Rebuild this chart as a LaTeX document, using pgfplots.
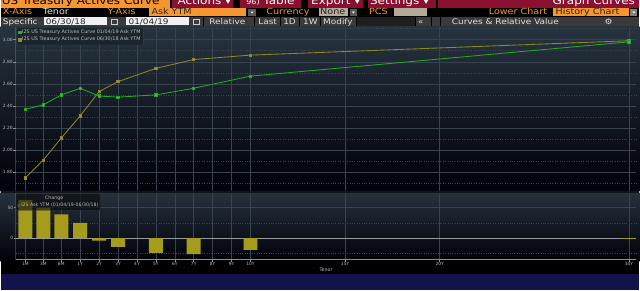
\documentclass[border=0pt]{standalone}
\usepackage{pgfplots}
\usepackage{pgfplotstable}
\pgfplotsset{compat=1.18}
\usepackage{fontspec}
\setmainfont{DejaVu Sans}
\newfontfamily\hdr[FakeStretch=1.15]{DejaVu Sans}
\definecolor{bbor}{HTML}{F7962F}
\definecolor{bbtxt}{HTML}{F39A2C}
\definecolor{bbred}{HTML}{8A1030}
\definecolor{rowthree}{HTML}{3A3A3A}
\definecolor{gridc}{HTML}{37434E}
\definecolor{bgtop}{HTML}{27343F}
\definecolor{grn}{HTML}{22AA22}
\definecolor{grnm}{HTML}{3CCB2A}
\definecolor{olv}{HTML}{8E8724}
\definecolor{olvm}{HTML}{A49C26}
\definecolor{barc}{HTML}{A69C1C}
\definecolor{navy}{HTML}{12134B}
\definecolor{lbl}{HTML}{BDBDBD}
\definecolor{boxg}{HTML}{B3AA9C}
\definecolor{axc}{HTML}{8A9096}
\definecolor{legbg}{HTML}{1B242C}
\definecolor{legdr}{HTML}{3A444E}

\pgfplotstableread{
x y
-1.9 2.37
-0.95 2.41
0 2.50
1 2.56
2 2.49
3 2.48
5 2.50
7 2.56
10 2.67
30 2.98
}\curveA
\pgfplotstableread{
x y
-1.9 1.75
-0.95 1.91
0 2.11
1 2.31
2 2.53
3 2.62
5 2.74
7 2.82
10 2.86
30 2.99
}\curveB
\pgfplotstableread{
x y
-1.9 62
-0.95 50
0 39
1 25
2 -4
3 -14
5 -24
7 -26
10 -19
30 -1
}\change

\begin{document}
\begin{tikzpicture}
\begin{scope}[x=1bp,y=1bp]
\path[use as bounding box] (0,0) rectangle (640,291);
\clip (0,0) rectangle (640,291);
\fill[black] (0,0) rectangle (640,291);
% ---------- row 1 ----------
\fill[bbor] (0,283) rectangle (170,291);
\fill[bbred] (172,283) rectangle (640,291);
\foreach \a/\b in {233/240,301/308,363/368,436/438} \fill[black] (\a,283) rectangle (\b,291);
\begin{scope}[every node/.style={anchor=base west,inner sep=0pt,font=\hdr\fontsize{10.5}{11}\selectfont}]
\node[text=black] at (1,286.3) {US Treasury Actives Curve};
\node[text=white] at (177,286.3) {Actions ▾};
\node[text=white] at (246,286.3) {{\fontsize{7}{7}\selectfont 96)} Table};
\node[text=white] at (311,286.3) {Export ▾};
\node[text=white] at (370,286.3) {Settings ▾};
\node[text=white] at (553,286.3) {Graph Curves};
\end{scope}
% ---------- row 2 ----------
\fill[bbor] (149,274.5) rectangle (246,282.5);
\fill[black!65] (248,275) rectangle (256,282);
\fill[boxg] (319,274.5) rectangle (348,282.5);
\fill[black!65] (350,275) rectangle (357,282);
\fill[boxg] (394,274.5) rectangle (427,282.5);
\fill[bbor] (554,274.5) rectangle (630,282.5);
\fill[black!50] (631,275) rectangle (638,282);
\foreach \c in {252,353.5,634.5} \fill[white] (\c-1.5,279.3) -- (\c+1.5,279.3) -- (\c,277.6) -- cycle;
\begin{scope}[every node/.style={anchor=base west,inner sep=0pt,font=\hdr\fontsize{8.4}{9}\selectfont}]
\node[text=bbtxt] at (2,276) {X-Axis};
\node[text=white!88!black] at (42,276) {Tenor};
\node[text=bbtxt] at (107,276) {Y-Axis};
\node[text=black!85] at (151,276) {Ask YTM};
\node[text=bbtxt] at (266,276) {Currency};
\node[text=black!85] at (320,276) {None};
\node[text=bbtxt] at (369,276) {PCS};
\node[text=bbtxt] at (489,276) {Lower Chart};
\node[text=black!85] at (556,276) {History Chart};
\end{scope}
% ---------- row 3 ----------
\fill[rowthree] (0,265) rectangle (640,274);
\fill[black!88] (357,265) rectangle (415,274);
\foreach \s in {203,254,280,299,320,356,415,431,440} \fill[black] (\s,265) rectangle (\s+1,274);
\fill[white!94!black] (43,265.5) rectangle (107,273.5);
\fill[white!94!black] (126,265.5) rectangle (189,273.5);
\foreach \c in {110.5,193.5} {
  \draw[white!80!black,line width=0.6bp] (\c,266.3) rectangle (\c+6,272);
  \fill[white!80!black] (\c,271) rectangle (\c+6,272.3);
}
\begin{scope}[every node/.style={anchor=base west,inner sep=0pt,font=\hdr\fontsize{7.8}{8}\selectfont}]
\node[text=white!92!black] at (2,266.8) {Specific};
\node[text=black!85] at (45,266.8) {06/30/18};
\node[text=black!85] at (128,266.8) {01/04/19};
\node[text=white!88!black] at (209,266.8) {Relative};
\node[text=white!88!black] at (258,266.8) {Last};
\node[text=white!88!black] at (283,266.8) {1D};
\node[text=white!88!black] at (303,266.8) {1W};
\node[text=white!88!black] at (323,266.8) {Modify};
\node[text=white!88!black] at (418,266.8) {«};
\node[text=white!88!black] at (452,266.8) {Curves \& Relative Value};
\node[text=white!88!black] at (605,266.8) {⚙};
\end{scope}
% ---------- chart backgrounds ----------
\shade[top color=bgtop, bottom color=black!97!blue] (0,99.3) rectangle (640,264);
\shade[top color=bgtop!95!black, bottom color=black!97!blue] (0,29) rectangle (640,97.8);
\fill[navy] (0,0) rectangle (640,16);
\end{scope}

% ---------- top chart ----------
\begin{axis}[at={(15bp,99.3bp)}, anchor=south west, scale only axis,
  width=622bp, height=164.7bp,
  xmin=-2.41, xmax=30.39, ymin=1.628, ymax=3.115,
  xtick={-1.9,-0.95,0,1,2,3,4,5,6,7,8,9,10,15,20,30}, xticklabels={},
  ytick={1.8,2.0,2.2,2.4,2.6,2.8,3.0},
  minor ytick={1.7,1.9,2.1,2.3,2.5,2.7,2.9,3.1},
  xmajorgrids, ymajorgrids, yminorgrids,
  major grid style={gridc, line width=0.5bp},
  minor grid style={gridc, dotted, line width=0.6bp},
  axis line style={draw=none},
  x tick style={draw=none},
  y tick style={axc, line width=0.5bp},
  minor y tick style={draw=none},
  tick align=outside, ytick pos=left, major tick length=2.2bp,
  /pgf/number format/assume math mode=true,
  yticklabel style={/pgf/number format/fixed,/pgf/number format/fixed zerofill,/pgf/number format/precision=2,
     font=\fontsize{4.4}{5}\selectfont, text=lbl, inner sep=0.6bp},
  legend style={at={(rel axis cs:0.0016,0.998)}, anchor=north west,
     fill=legbg, fill opacity=0.92, text opacity=1, draw=legdr, rounded corners=1bp,
     font=\fontsize{4.9}{5.5}\selectfont, text=lbl, inner xsep=2bp, inner ysep=1.6bp,
     row sep=0bp, nodes={inner sep=1bp}},
  legend cell align=left, reverse legend,
  legend image code/.code={\path[#1] plot coordinates {(1.5bp,0bp)};}
]
\addplot[olv, line width=0.85bp, mark=square*, mark size=1.15bp, mark options={fill=olvm,draw=none}] table {\curveB};
\addlegendentry{I2S US Treasury Actives Curve 06/30/18 Ask YTM}
\addplot[grn, line width=0.85bp, mark=square*, mark size=1.15bp, mark options={fill=grnm,draw=none}] table {\curveA};
\addlegendentry{I2S US Treasury Actives Curve 01/04/19 Ask YTM}
\draw[axc, line width=0.6bp] (rel axis cs:0,0) -- (rel axis cs:0,1);
\end{axis}
\draw[black!55!bgtop, line width=1.4bp] (0bp,98.5bp) -- (640bp,98.5bp);

% ---------- bottom chart ----------
\begin{axis}[at={(15bp,30.7bp)}, anchor=south west, scale only axis,
  width=622bp, height=67.3bp,
  xmin=-2.41, xmax=30.39, ymin=-35.2, ymax=74.5,
  xtick={-1.9,-0.95,0,1,2,3,4,5,6,7,8,9,10,15,20,30},
  xticklabels={1M,3M,6M,1Y,2Y,3Y,4Y,5Y,6Y,7Y,8Y,9Y,10Y,15Y,20Y,30Y},
  ytick={0,50}, minor ytick={-25,25},
  xmajorgrids, ymajorgrids, yminorgrids,
  major grid style={gridc, line width=0.5bp},
  minor grid style={gridc, dotted, line width=0.6bp},
  axis line style={draw=none},
  tick style={axc, line width=0.5bp},
  minor y tick style={draw=none},
  tick align=outside, xtick pos=left, ytick pos=left, major tick length=1.8bp,
  /pgf/number format/assume math mode=true,
  ticklabel style={font=\fontsize{4.4}{5}\selectfont, text=lbl, inner sep=0.6bp},
  legend style={at={(rel axis cs:0,0.985)}, anchor=north west,
     fill=black!80!legbg, fill opacity=0.6, text opacity=1, draw=legdr, draw opacity=0.8, rounded corners=1bp,
     font=\fontsize{4.7}{5.2}\selectfont, text=lbl, inner xsep=1.5bp, inner ysep=1.2bp,
     row sep=0bp, nodes={inner sep=1bp}},
  legend cell align=left,
  legend image code/.code={\path[draw=lbl!60!black, fill=barc!50!black, line width=0.3bp] (0bp,-1.3bp) rectangle (2.6bp,1.3bp);}
]
\draw[axc!90!white, line width=0.9bp] (axis cs:-2.41,0) -- (axis cs:30.39,0);
\addplot[ybar, bar width=14bp, fill=barc, draw=none, forget plot] table {\change};
\addlegendimage{empty legend}
\addlegendentry{\makebox[66bp][c]{Change}}
\addlegendimage{ybar, fill=barc}
\addlegendentry{I2S Ask YTM (01/04/19-06/30/18)}
\draw[axc, line width=0.6bp] (rel axis cs:0,0) -- (rel axis cs:0,1);
\draw[axc, line width=0.7bp] (rel axis cs:0,0) -- (rel axis cs:1,0);
\end{axis}
\node[anchor=base, inner sep=0pt, text=lbl, font=\fontsize{4.8}{5}\selectfont] at (326bp,18.5bp) {Tenor};
\end{tikzpicture}
\end{document}
